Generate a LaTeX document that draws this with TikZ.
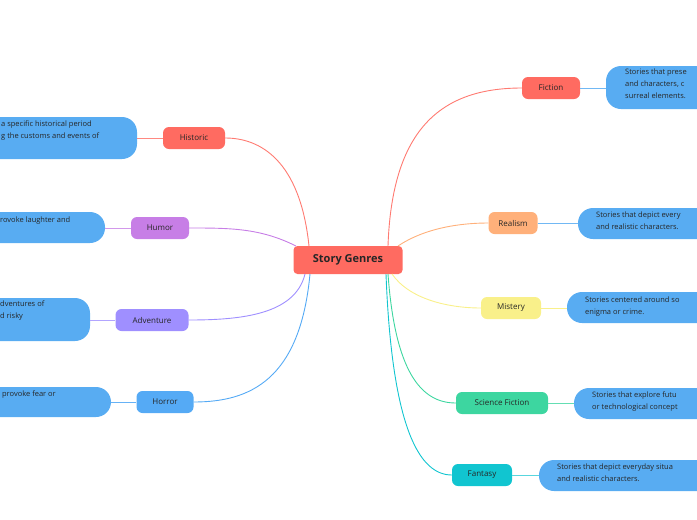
\documentclass[tikz,border=0pt]{standalone}
\usepackage{fontspec}
\setmainfont{Open Sans}
\begin{document}
\begin{tikzpicture}[x=1pt,y=-1pt,
  genre/.style={rounded corners=6pt,minimum height=22pt,inner xsep=7pt,font=\fontsize{8}{10}\selectfont,text=black!85},
  leaf/.style={fill=leafc,rounded corners=15pt},
  lt/.style={align=left,font=\fontsize{7.5}{12}\selectfont,text=black!85,inner sep=0pt},
  con/.style={line width=0.9pt}]
\definecolor{leafc}{HTML}{58ACF2}
\definecolor{cred}{HTML}{FF6B61}
\definecolor{cora}{HTML}{FFB07A}
\definecolor{cyel}{HTML}{F9F08A}
\definecolor{cgre}{HTML}{3DD6A0}
\definecolor{ccya}{HTML}{11C5D0}
\definecolor{cpur}{HTML}{C77EE6}
\definecolor{cvio}{HTML}{9F8FFF}
\definecolor{cblu}{HTML}{55AAF5}
\useasboundingbox (0,0) rectangle (697,520);
\clip (0,0) rectangle (697,520);
% leaves
\fill[leaf] (606,66) rectangle (740,109);
\fill[leaf] (578,208) rectangle (740,239);
\fill[leaf] (567,292) rectangle (740,323);
\fill[leaf] (574,388) rectangle (740,419);
\fill[leaf] (539,460) rectangle (740,491);
\fill[leaf] (-40,117) rectangle (137,159);
\fill[leaf] (-40,212) rectangle (105,243);
\fill[leaf] (-40,298) rectangle (90,341);
\fill[leaf] (-40,387) rectangle (111,417);
\node[lt,anchor=north west] (lf) at (625,69) {Stories that prese\\and characters, c\\surreal elements.};
\node[lt,anchor=north west] (lr) at (596,212) {Stories that depict every\\and realistic characters.};
\node[lt,anchor=north west] (lm) at (585,297) {Stories centered around so\\enigma or crime.};
\node[lt,anchor=north west] (ls) at (592,392) {Stories that explore futu\\or technological concept};
\node[lt,anchor=north west] (lfa) at (557,464) {Stories that depict everyday situa\\and realistic characters.};
\node[lt,anchor=north west] (lh) at (1,121) {a specific historical period\\g the customs and events of};
\node[lt,anchor=north west] (lhu) at (0,217) {rovoke laughter and};
\node[lt,anchor=north west] (la) at (0,301) {dventures of\\d risky};
\node[lt,anchor=north west] (lho) at (0,391) {\ provoke fear or};
\coordinate (pf) at (606,88); \coordinate (pr) at (578,223); \coordinate (pm) at (567,308);
\coordinate (ps) at (574,403); \coordinate (pfa) at (539,475);
\coordinate (ph) at (137,138); \coordinate (phu) at (105,228); \coordinate (pa) at (90,320); \coordinate (pho) at (111,402);
% genres
\node[genre,fill=cred,minimum width=58pt] (fic) at (551,88) {Fiction};
\node[genre,fill=cora,minimum width=49pt] (rea) at (513,223) {Realism};
\node[genre,fill=cyel,minimum width=60pt] (mis) at (511,308) {Mistery};
\node[genre,fill=cgre,minimum width=92pt] (sf) at (502,403) {Science Fiction};
\node[genre,fill=ccya,minimum width=60pt] (fan) at (482,475) {Fantasy};
\node[genre,fill=cred,minimum width=62pt] (his) at (194,138) {Historic};
\node[genre,fill=cpur,minimum width=58pt] (hum) at (160,228) {Humor};
\node[genre,fill=cvio,minimum width=73pt] (adv) at (152,320) {Adventure};
\node[genre,fill=cblu,minimum width=57pt] (hor) at (165,402) {Horror};
\node[fill=cred,rounded corners=4pt,minimum width=109pt,minimum height=28pt,font=\bfseries\fontsize{11}{13}\selectfont,text=black!85] (c) at (348,260) {Story Genres};
% genre-leaf
\draw[con,leafc!85] (fic.east) -- (pf);
\draw[con,leafc!85] (rea.east) -- (pr);
\draw[con,cyel] (mis.east) -- (pm);
\draw[con,cgre!80] (sf.east) -- (ps);
\draw[con,ccya!70] (fan.east) -- (pfa);
\draw[con,cred!80] (his.west) -- (ph);
\draw[con,cpur!80] (hum.west) -- (phu);
\draw[con,cvio!80] (adv.west) -- (pa);
\draw[con,cblu!90] (hor.west) -- (pho);
% center-genre
\begin{scope}[on background layer/.style={}]
\draw[con,cred!90] (388,246) .. controls (392,130) and (440,88) .. (fic.west);
\draw[con,cora] (398,246) .. controls (425,228) and (460,223) .. (rea.west);
\draw[con,cyel] (392,274) .. controls (410,300) and (450,308) .. (mis.west);
\draw[con,cgre] (388,274) .. controls (395,370) and (420,403) .. (sf.west);
\draw[con,ccya] (386,274) .. controls (392,430) and (420,475) .. (fan.west);
\draw[con,cred!90] (309,246) .. controls (300,160) and (260,138) .. (his.east);
\draw[con,cpur] (296,246) .. controls (260,228) and (230,228) .. (hum.east);
\draw[con,cvio] (305,274) .. controls (295,315) and (240,320) .. (adv.east);
\draw[con,cblu] (310,274) .. controls (300,380) and (250,402) .. (hor.east);
\end{scope}
\end{tikzpicture}
\end{document}
